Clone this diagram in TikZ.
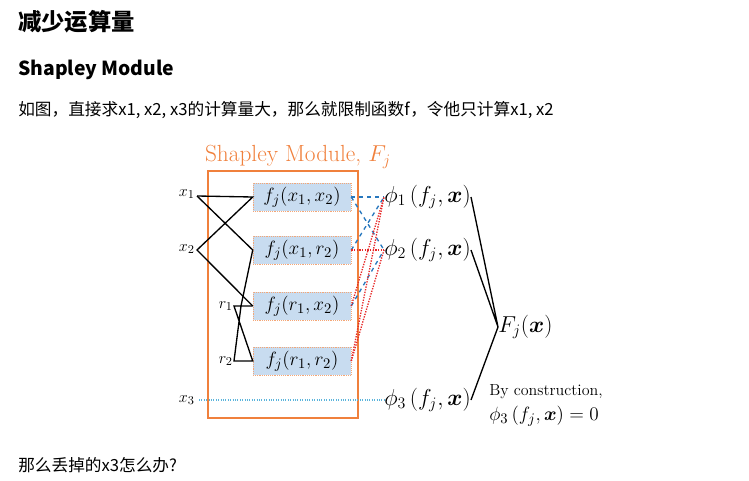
\documentclass[tikz,border=0pt]{standalone}
\usepackage{fontspec}
\usepackage{amsmath}
\newfontfamily\cjk{Noto Sans CJK SC}
\definecolor{org}{RGB}{240,128,60}
\definecolor{bfill}{RGB}{200,220,240}
\definecolor{bdash}{RGB}{40,120,190}
\definecolor{lblue}{RGB}{90,180,220}
\definecolor{rdot}{RGB}{230,40,40}
\begin{document}
\begin{tikzpicture}[x=0.75pt,y=-0.75pt,
  fbox/.style={draw=org!70,densely dotted,fill=bfill,minimum width=73.5pt,minimum height=21pt,inner sep=0pt,font=\fontsize{15.5}{17}\selectfont},
  lab/.style={inner sep=0pt,font=\fontsize{13}{15}\selectfont},
  phil/.style={inner sep=0pt,anchor=west,font=\fontsize{17}{19}\selectfont},
  bl/.style={draw=black,line width=1pt},
  bd/.style={draw=bdash,dashed,line width=1pt},
  rd/.style={draw=rdot,densely dotted,line width=1pt}]
\useasboundingbox (0,0) rectangle (749,481);
\node[anchor=west,inner sep=0pt,font=\cjk\bfseries\fontsize{17.5}{20}\selectfont] (h1) at (18,22) {减少运算量};
\node[anchor=west,inner sep=0pt,font=\cjk\bfseries\fontsize{14.5}{17}\selectfont] (h2) at (18,70) {Shapley Module};
\node[anchor=west,inner sep=0pt,font=\cjk\fontsize{12.5}{15}\selectfont] (p1) at (18,110) {如图，直接求x1, x2, x3的计算量大，那么就限制函数\textit{f}，令他只计算x1, x2};
\node[anchor=west,inner sep=0pt,font=\cjk\fontsize{12.5}{15}\selectfont] (p2) at (18,465) {那么丢掉的x3怎么办?};

\draw[org,line width=1.5pt] (208,171) rectangle (358,418);
\node[text=org,font=\fontsize{17.5}{19}\selectfont] (title) at (298,157) {Shapley Module, $F_j$};

\node[fbox] (b1) at (302,197) {$f_j(x_1,x_2)$};
\node[fbox] (b2) at (302,250) {$f_j(x_1,r_2)$};
\node[fbox] (b3) at (302,306) {$f_j(r_1,x_2)$};
\node[fbox] (b4) at (302,361) {$f_j(r_1,r_2)$};

\node[lab,anchor=east] (lx1) at (195,194) {$x_1$};
\node[lab,anchor=east] (lx2) at (195,249) {$x_2$};
\node[lab,anchor=east] (lr1) at (233,306) {$r_1$};
\node[lab,anchor=east] (lr2) at (233,361) {$r_2$};
\node[lab,anchor=east] (lx3) at (195,400) {$x_3$};

\coordinate (px1) at (197,196);
\coordinate (px2) at (197,250);
\coordinate (pr1) at (234,306);
\coordinate (pr2) at (234,361);
\coordinate (k) at (241,306);
\draw[bl] (px1) -- (b1.west) -- (px2) -- (b3.west);
\draw[bl] (px1) -- (b2.west) -- (k) -- (pr2) -- (b4.west) -- (pr1) -- (b3.west);

\node[phil] (f1) at (384,197) {$\phi_1\left(f_j,\boldsymbol{x}\right)$};
\node[phil] (f2) at (384,250) {$\phi_2\left(f_j,\boldsymbol{x}\right)$};
\node[phil] (f3) at (384,400) {$\phi_3\left(f_j,\boldsymbol{x}\right)$};
\node[phil] (F) at (498,327) {$F_j(\boldsymbol{x})$};
\node[anchor=west,inner sep=0pt,font=\fontsize{12}{14}\selectfont] (bc) at (489,392) {By construction,};
\node[anchor=west,inner sep=0pt,font=\fontsize{15.5}{17}\selectfont] (z) at (489,416) {$\phi_3\left(f_j,\boldsymbol{x}\right)=0$};

\draw[bd] (b1.east) -- (f1.west);
\draw[bd] (b1.east) -- (f2.west);
\draw[bd] (b2.east) -- (f1.west);
\draw[bd] (b3.east) -- (f2.west);
\draw[rd] (b2.east) -- (f2.west);
\draw[rd] (b3.east) -- (f1.west);
\draw[rd] (b4.east) -- (f1.west);
\draw[rd] (b4.east) -- (f2.west);
\draw[lblue,densely dotted,line width=0.8pt] (px1 |- lx3.east) ++(2,0) -- (f3.west);

\draw[bl] (f1.east) -- (F.west) -- (f2.east);
\draw[bl] (f3.east) -- (F.west);
\end{tikzpicture}
\end{document}
